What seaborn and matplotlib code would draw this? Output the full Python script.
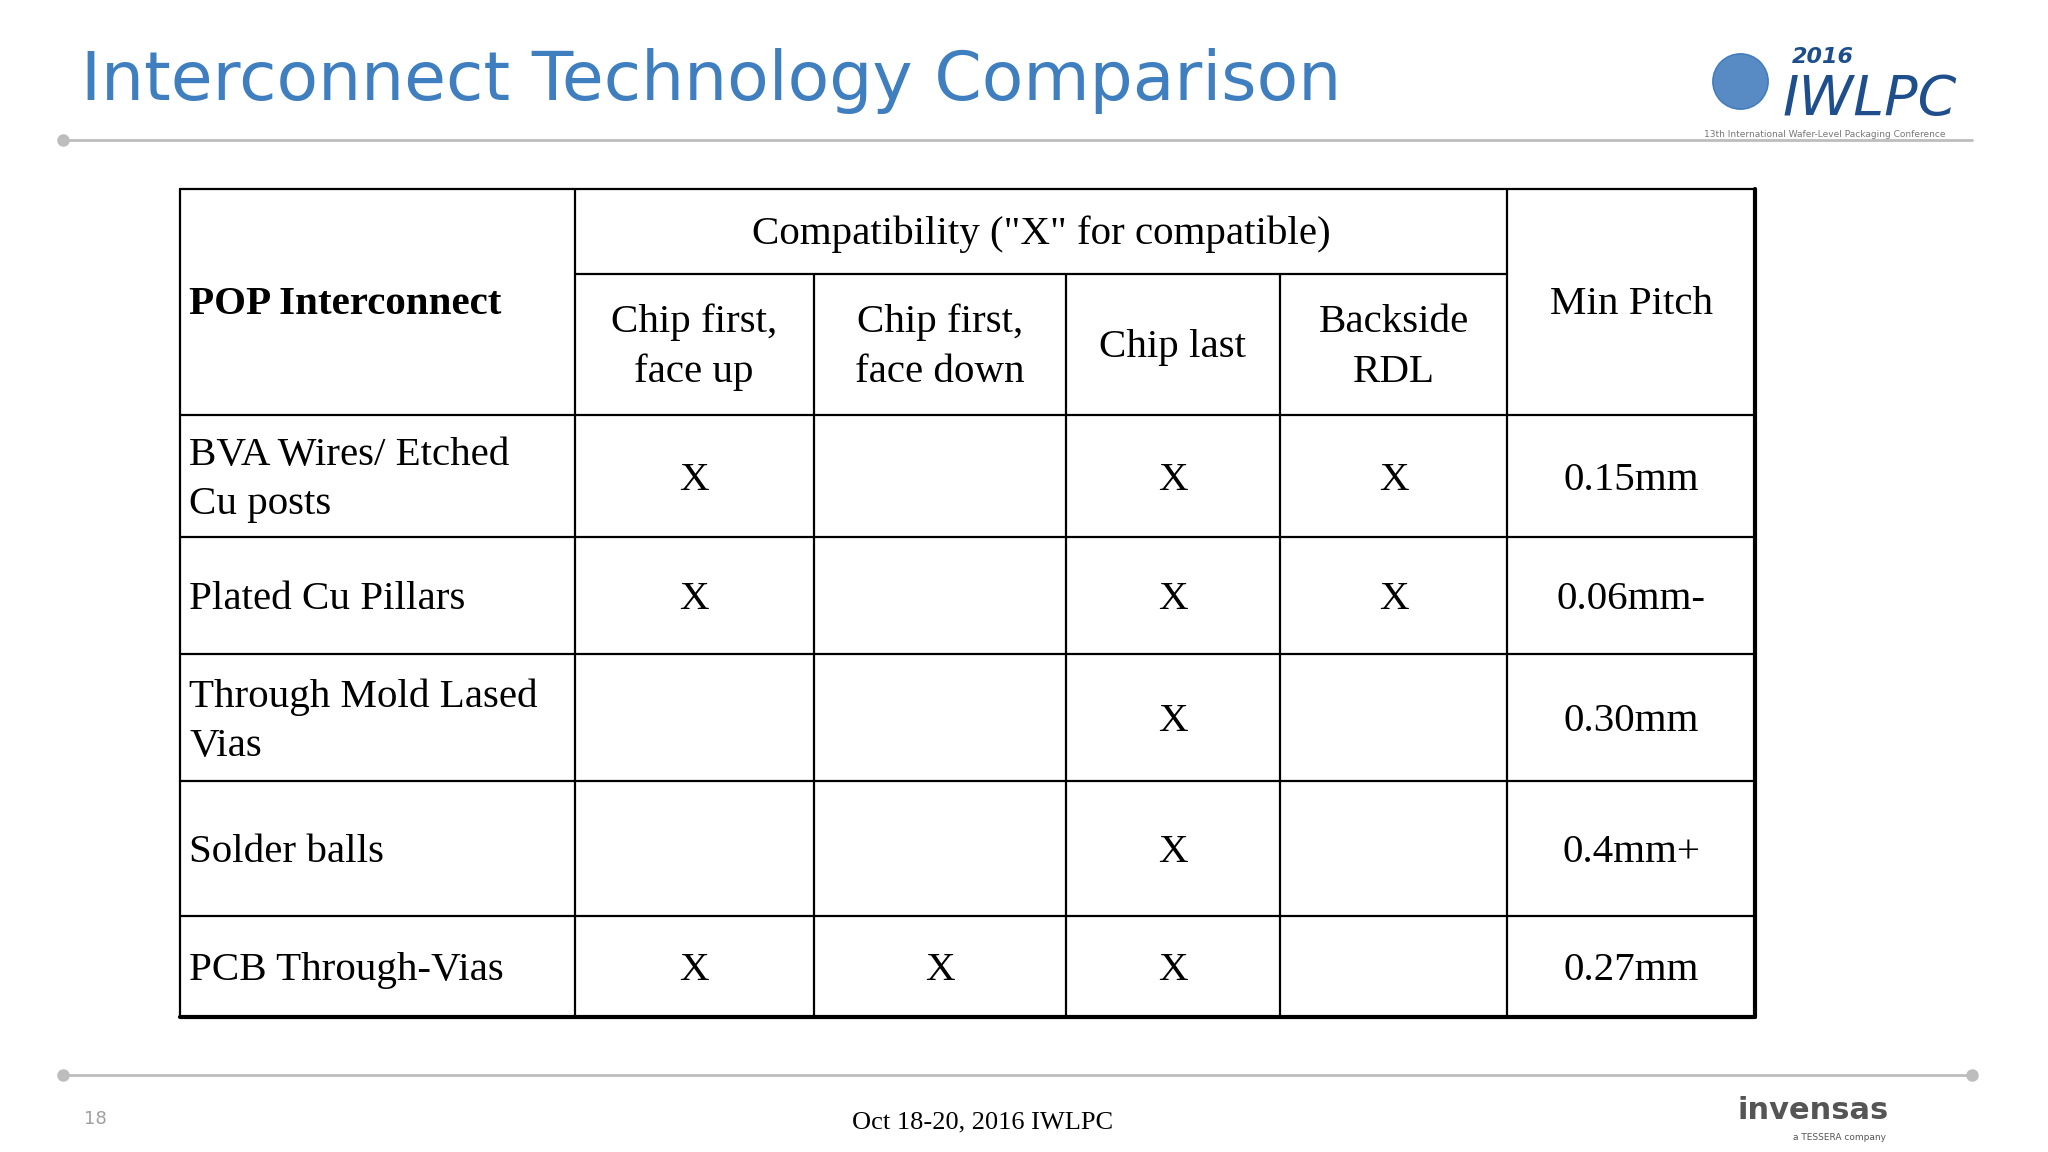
import matplotlib
matplotlib.use("Agg")
import matplotlib.pyplot as plt
import seaborn as sns

sns.set_theme(style="white")
plt.rcParams['font.family'] = ['DejaVu Sans']
plt.rcParams['text.color'] = 'black'

# table content
col_headers = ["Chip first,\nface up", "Chip first,\nface down", "Chip last", "Backside\nRDL"]
row_labels = ["BVA Wires/ Etched\nCu posts", "Plated Cu Pillars", "Through Mold Lased\nVias",
              "Solder balls", "PCB Through-Vias"]
compat = [
    ["X", "", "X", "X"],
    ["X", "", "X", "X"],
    ["", "", "X", ""],
    ["", "", "X", ""],
    ["X", "X", "X", ""],
]
min_pitch = ["0.15mm", "0.06mm-", "0.30mm", "0.4mm+", "0.27mm"]

# layout in reference pixel space (1568 x 882)
W, H = 1568, 882
xs = [138, 440, 623, 816, 980, 1154, 1344]
ys = [145, 210, 318, 411, 501, 598, 701, 779]

fig = plt.figure(figsize=(20.48, 11.52), dpi=100)
ax = fig.add_axes([0, 0, 1, 1])
ax.set_xlim(0, W)
ax.set_ylim(H, 0)
ax.axis("off")

serif = "Liberation Serif"
fs = 29.5
lw = 1.6
ls = 1.45
dy = 3  # small downward nudge of cell text

# title and decorations
ax.text(62, 62, "Interconnect Technology Comparison", fontsize=49, color="#3F7FC0",
        va="center", ha="left", family="DejaVu Sans")
ax.plot([48, 1510], [107, 107], color="#BDBDBD", lw=2)
ax.plot([48], [107], "o", color="#BDBDBD", ms=8)
ax.plot([48, 1510], [823, 823], color="#BDBDBD", lw=2)
ax.plot([48, 1510], [823, 823], "o", color="#BDBDBD", ms=8)
ax.text(1372, 44, "2016", fontsize=16, color="#1E4E8C", style="italic", weight="bold", va="center")
ax.text(1365, 76, "IWLPC", fontsize=40, color="#1E4E8C", style="italic", va="center")
ax.text(1305, 103, "13th International Wafer-Level Packaging Conference", fontsize=6.5, color="#777777", va="center")
ax.plot([1332], [62], "o", color="#2E6DB4", ms=40, alpha=0.8)
ax.text(64, 857, "18", fontsize=13, color="#A0A0A0", va="center")
ax.text(752, 859, "Oct 18-20, 2016 IWLPC", fontsize=19, family=serif, ha="center", va="center")
ax.text(1330, 850, "invensas", fontsize=22, color="#555555", weight="bold", va="center")
ax.text(1373, 871, "a TESSERA company", fontsize=6.5, color="#555555", va="center")

# grid lines
for k, x in enumerate(xs[:-1]):
    top = ys[1] if k in (2, 3, 4) else ys[0]
    ax.plot([x, x], [top, ys[-1]], color="black", lw=lw)
ax.plot([xs[-1], xs[-1]], [ys[0], ys[-1]], color="black", lw=3)
for i, y in enumerate(ys):
    if i == 1:
        ax.plot([xs[1], xs[5]], [y, y], color="black", lw=lw)
    else:
        ax.plot([xs[0], xs[-1]], [y, y], color="black", lw=3 if i == len(ys) - 1 else lw)

# header
ax.text(xs[0] + 7, 233, "POP Interconnect", fontsize=fs, family=serif, weight="bold", va="center")
ax.text((xs[1] + xs[5]) / 2, 179, 'Compatibility ("X" for compatible)', fontsize=fs,
        family=serif, ha="center", va="center")
for j, h in enumerate(col_headers):
    ax.text((xs[j + 1] + xs[j + 2]) / 2, 266, h, fontsize=fs, family=serif,
            ha="center", va="center", linespacing=ls)
ax.text((xs[5] + xs[6]) / 2, 233, "Min Pitch", fontsize=fs, family=serif, ha="center", va="center")

# body
for i, lab in enumerate(row_labels):
    yc = (ys[i + 2] + ys[i + 3]) / 2 + dy
    ax.text(xs[0] + 7, yc, lab, fontsize=fs, family=serif, va="center", linespacing=ls)
    for j, v in enumerate(compat[i]):
        ax.text((xs[j + 1] + xs[j + 2]) / 2, yc, v, fontsize=fs, family=serif,
                ha="center", va="center")
    ax.text((xs[5] + xs[6]) / 2, yc, min_pitch[i], fontsize=fs, family=serif,
            ha="center", va="center")

fig.savefig("out.png", dpi=100, facecolor="white")
